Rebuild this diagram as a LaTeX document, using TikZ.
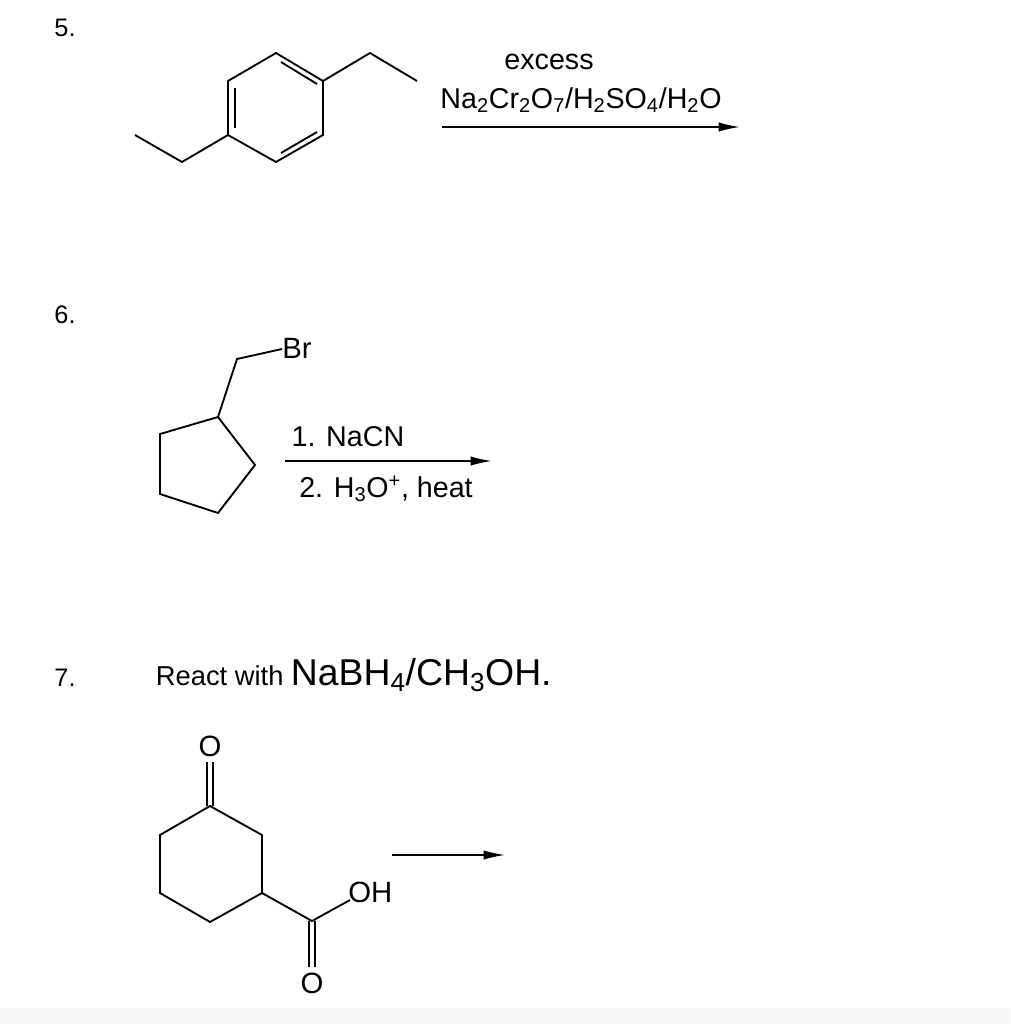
\documentclass[tikz,border=0pt]{standalone}
\usepackage{fontspec}
\setmainfont{Liberation Sans}
\usetikzlibrary{arrows.meta}
\begin{document}
\begin{tikzpicture}[x=0.75pt,y=-0.75pt,line width=1.4pt,
  lbl/.style={inner sep=0pt,font=\fontsize{21.5}{24}\selectfont},
  num/.style={inner sep=0pt,font=\fontsize{19}{22}\selectfont},
  atom/.style={inner sep=1pt,font=\fontsize{22}{24}\selectfont},
  rx/.style={-{Latex[length=16pt,width=7pt]},line width=1.3pt}]
\useasboundingbox (0,0) rectangle (1010,1024);
\fill[gray!6] (0,1008) rectangle (1010,1024);
% labels
\node[num] (n5) at (65,28) {5.};
\node[num] (n6) at (65,315) {6.};
\node[num] (n7) at (65,678) {7.};
% 5
\draw (276,53)--(323,81)--(323,135)--(276,162)--(228,135)--(228,81)--cycle;
\draw (235,88)--(235,128);
\draw (281,62)--(317,84);
\draw (281,153)--(317,132);
\draw (323,81)--(370,53)--(417,81);
\draw (228,135)--(182,162)--(135,135);
\node[lbl] (ex) at (549,62) {excess};
\node[lbl] (rg5) at (581,100) {Na\textsubscript{2}Cr\textsubscript{2}O\textsubscript{7}/H\textsubscript{2}SO\textsubscript{4}/H\textsubscript{2}O};
\coordinate (a5s) at (442,127); \coordinate (a5e) at (740,127);
\draw[rx] (a5s)--(a5e);
% 6
\draw (218,417)--(255,465)--(218,513)--(160,494)--(160,434)--cycle;
\draw (218,417)--(237,359)--(282,349);
\node[atom,anchor=west] (br) at (280,348) {Br};
\node[lbl] (r61) at (348,437) {1. NaCN};
\node[lbl] (r62) at (386,489) {2. H\textsubscript{3}O\textsuperscript{+}, heat};
\coordinate (a6s) at (285,461); \coordinate (a6e) at (492,461);
\draw[rx] (a6s)--(a6e);
% 7
\node[anchor=base west,inner sep=0pt,font=\fontsize{20.5}{22}\selectfont] (rw) at (155,685) {React with};
\node[anchor=base west,inner sep=0pt,font=\fontsize{28}{30}\selectfont] (nab) at (290,685) {NaBH\textsubscript{4}/CH\textsubscript{3}OH.};
\draw (210,806)--(262,835)--(262,893)--(210,922)--(160,893)--(160,835)--cycle;
\node[atom] (o1) at (210,746) {O};
\draw (207,806)--(207,762) (213,806)--(213,762);
\draw (262,893)--(312,921)--(350,900);
\node[atom,anchor=west] (oh) at (346,892) {OH};
\draw (309,921)--(309,967) (315,921)--(315,967);
\node[atom] (o2) at (312,983) {O};
\coordinate (a7s) at (392,855); \coordinate (a7e) at (505,855);
\draw[rx] (a7s)--(a7e);
\end{tikzpicture}
\end{document}
